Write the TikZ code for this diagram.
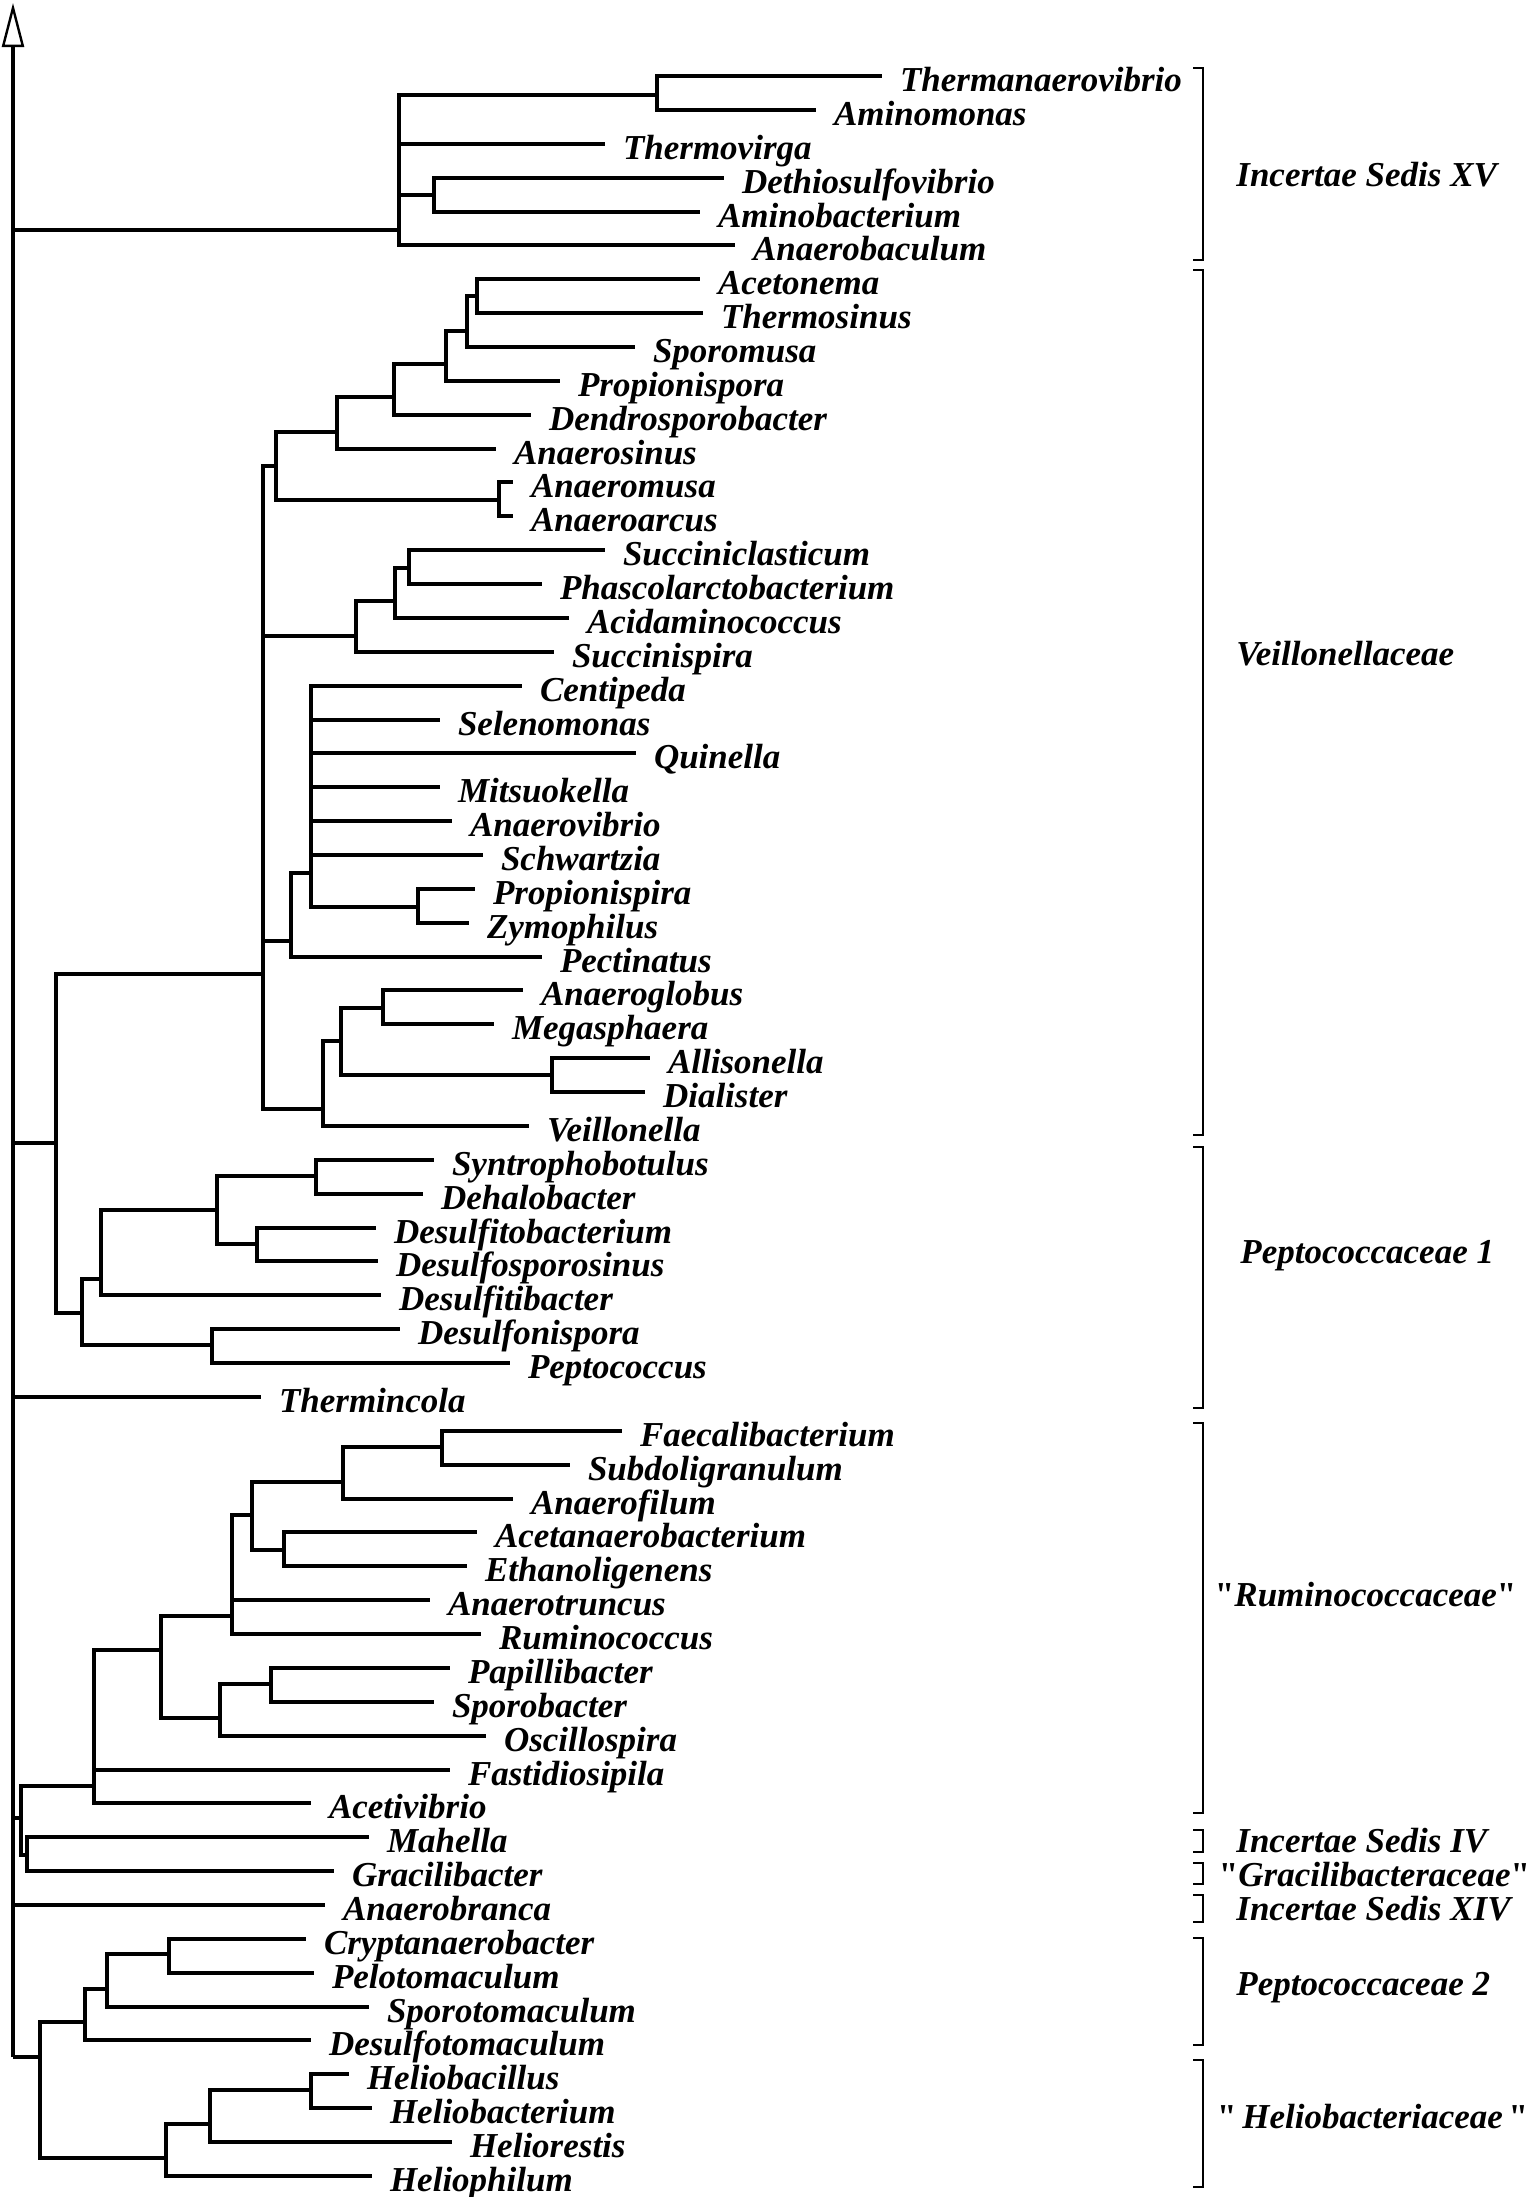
\documentclass[tikz,border=0pt]{standalone}
\usepackage{fontspec}
\setmainfont{Liberation Serif}
\newfontfamily\retafont{Liberation Serif}
\usetikzlibrary{arrows.meta}

\tikzset{
  ramo/.style={line width=1.75pt},
  chave/.style={line width=0.9pt},
  folha/.style={anchor=west, inner sep=0pt, outer xsep=9pt, text height=15pt, text depth=0pt},
  familia/.style={anchor=west, inner sep=0pt, text height=15pt, text depth=0pt},
}
\newcommand{\aspas}{{\retafont\upshape\bfseries"}}

\begin{document}
\begin{tikzpicture}[x=0.5pt, y=-0.5pt, font=\fontsize{17.5}{20}\selectfont\bfseries\itshape]

    \useasboundingbox (0,0) rectangle (1528,2197);

    % eixo
    \coordinate (raiz) at (13,2057);
    \coordinate (topo) at (13,3);
    \draw[ramo, -{Triangle[open, length=22pt, width=11pt, line width=1.2pt]}] (raiz) -- (topo);

    % folhas
    \node[folha] (thermanaerovibrio) at (882,76) {Thermanaerovibrio};
    \node[folha] (aminomonas) at (816,110) {Aminomonas};
    \node[folha] (thermovirga) at (605,144) {Thermovirga};
    \node[folha] (dethiosulfovibrio) at (724,178) {Dethiosulfovibrio};
    \node[folha] (aminobacterium) at (700,212) {Aminobacterium};
    \node[folha] (anaerobaculum) at (735,245) {Anaerobaculum};
    \node[folha] (acetonema) at (700,279) {Acetonema};
    \node[folha] (thermosinus) at (703,313) {Thermosinus};
    \node[folha] (sporomusa) at (635,347) {Sporomusa};
    \node[folha] (propionispora) at (560,381) {Propionispora};
    \node[folha] (dendrosporobacter) at (531,415) {Dendrosporobacter};
    \node[folha] (anaerosinus) at (496,449) {Anaerosinus};
    \node[folha] (anaeromusa) at (513,482) {Anaeromusa};
    \node[folha] (anaeroarcus) at (513,516) {Anaeroarcus};
    \node[folha] (succiniclasticum) at (605,550) {Succiniclasticum};
    \node[folha] (phascolarctobacterium) at (542,584) {Phascolarctobacterium};
    \node[folha] (acidaminococcus) at (569,618) {Acidaminococcus};
    \node[folha] (succinispira) at (554,652) {Succinispira};
    \node[folha] (centipeda) at (522,686) {Centipeda};
    \node[folha] (selenomonas) at (440,720) {Selenomonas};
    \node[folha] (quinella) at (636,753) {Quinella};
    \node[folha] (mitsuokella) at (440,787) {Mitsuokella};
    \node[folha] (anaerovibrio) at (452,821) {Anaerovibrio};
    \node[folha] (schwartzia) at (483,855) {Schwartzia};
    \node[folha] (propionispira) at (475,889) {Propionispira};
    \node[folha] (zymophilus) at (469,923) {Zymophilus};
    \node[folha] (pectinatus) at (542,957) {Pectinatus};
    \node[folha] (anaeroglobus) at (523,990) {Anaeroglobus};
    \node[folha] (megasphaera) at (494,1024) {Megasphaera};
    \node[folha] (allisonella) at (650,1058) {Allisonella};
    \node[folha] (dialister) at (645,1092) {Dialister};
    \node[folha] (veillonella) at (529,1126) {Veillonella};
    \node[folha] (syntrophobotulus) at (434,1160) {Syntrophobotulus};
    \node[folha] (dehalobacter) at (423,1194) {Dehalobacter};
    \node[folha] (desulfitobacterium) at (376,1228) {Desulfitobacterium};
    \node[folha] (desulfosporosinus) at (378,1261) {Desulfosporosinus};
    \node[folha] (desulfitibacter) at (381,1295) {Desulfitibacter};
    \node[folha] (desulfonispora) at (400,1329) {Desulfonispora};
    \node[folha] (peptococcus) at (510,1363) {Peptococcus};
    \node[folha] (thermincola) at (261,1397) {Thermincola};
    \node[folha] (faecalibacterium) at (622,1431) {Faecalibacterium};
    \node[folha] (subdoligranulum) at (570,1465) {Subdoligranulum};
    \node[folha] (anaerofilum) at (513,1499) {Anaerofilum};
    \node[folha] (acetanaerobacterium) at (477,1532) {Acetanaerobacterium};
    \node[folha] (ethanoligenens) at (467,1566) {Ethanoligenens};
    \node[folha] (anaerotruncus) at (430,1600) {Anaerotruncus};
    \node[folha] (ruminococcus) at (481,1634) {Ruminococcus};
    \node[folha] (papillibacter) at (450,1668) {Papillibacter};
    \node[folha] (sporobacter) at (434,1702) {Sporobacter};
    \node[folha] (oscillospira) at (486,1736) {Oscillospira};
    \node[folha] (fastidiosipila) at (450,1770) {Fastidiosipila};
    \node[folha] (acetivibrio) at (311,1803) {Acetivibrio};
    \node[folha] (mahella) at (369,1837) {Mahella};
    \node[folha] (gracilibacter) at (334,1871) {Gracilibacter};
    \node[folha] (anaerobranca) at (325,1905) {Anaerobranca};
    \node[folha] (cryptanaerobacter) at (306,1939) {Cryptanaerobacter};
    \node[folha] (pelotomaculum) at (314,1973) {Pelotomaculum};
    \node[folha] (sporotomaculum) at (369,2007) {Sporotomaculum};
    \node[folha] (desulfotomaculum) at (311,2040) {Desulfotomaculum};
    \node[folha] (heliobacillus) at (349,2074) {Heliobacillus};
    \node[folha] (heliobacterium) at (372,2108) {Heliobacterium};
    \node[folha] (heliorestis) at (452,2142) {Heliorestis};
    \node[folha] (heliophilum) at (372,2176) {Heliophilum};

    % Incertae Sedis XV
    \coordinate (c15) at (399,230);
    \coordinate (c15a) at (657,95);
    \coordinate (c15b) at (434,195);
    \draw[ramo] (c15a) |- (thermanaerovibrio) (c15a) |- (aminomonas);
    \draw[ramo] (c15b) |- (dethiosulfovibrio) (c15b) |- (aminobacterium);
    \draw[ramo] (c15) |- (c15a) (c15) |- (thermovirga) (c15) |- (c15b) (c15) |- (anaerobaculum);

    % Veillonellaceae
    \coordinate (cv) at (263,974);
    \coordinate (cv1) at (276,466);
    \coordinate (cv2) at (337,432);
    \coordinate (cv3) at (394,397);
    \coordinate (cv4) at (446,364);
    \coordinate (cv5) at (467,331);
    \coordinate (cv6) at (477,296);
    \coordinate (cv7) at (499,500);
    \coordinate (cv8) at (356,636);
    \coordinate (cv9) at (395,601);
    \coordinate (cv10) at (409,568);
    \coordinate (cv11) at (291,941);
    \coordinate (cv12) at (311,873);
    \coordinate (cv13) at (418,907);
    \coordinate (cv14) at (323,1109);
    \coordinate (cv15) at (341,1041);
    \coordinate (cv16) at (383,1008);
    \coordinate (cv17) at (552,1075);
    \draw[ramo] (cv6) |- (acetonema) (cv6) |- (thermosinus);
    \draw[ramo] (cv5) |- (cv6) (cv5) |- (sporomusa);
    \draw[ramo] (cv4) |- (cv5) (cv4) |- (propionispora);
    \draw[ramo] (cv3) |- (cv4) (cv3) |- (dendrosporobacter);
    \draw[ramo] (cv2) |- (cv3) (cv2) |- (anaerosinus);
    \draw[ramo] (cv7) |- (anaeromusa) (cv7) |- (anaeroarcus);
    \draw[ramo] (cv1) |- (cv2) (cv1) |- (cv7);
    \draw[ramo] (cv10) |- (succiniclasticum) (cv10) |- (phascolarctobacterium);
    \draw[ramo] (cv9) |- (cv10) (cv9) |- (acidaminococcus);
    \draw[ramo] (cv8) |- (cv9) (cv8) |- (succinispira);
    \draw[ramo] (cv13) |- (propionispira) (cv13) |- (zymophilus);
    \draw[ramo] (cv12) |- (centipeda) (cv12) |- (selenomonas) (cv12) |- (quinella)
        (cv12) |- (mitsuokella) (cv12) |- (anaerovibrio) (cv12) |- (schwartzia) (cv12) |- (cv13);
    \draw[ramo] (cv11) |- (cv12) (cv11) |- (pectinatus);
    \draw[ramo] (cv16) |- (anaeroglobus) (cv16) |- (megasphaera);
    \draw[ramo] (cv17) |- (allisonella) (cv17) |- (dialister);
    \draw[ramo] (cv15) |- (cv16) (cv15) |- (cv17);
    \draw[ramo] (cv14) |- (cv15) (cv14) |- (veillonella);
    \draw[ramo] (cv) |- (cv1) (cv) |- (cv8) (cv) |- (cv11) (cv) |- (cv14);

    % Peptococcaceae 1
    \coordinate (cp0) at (56,1143);
    \coordinate (cp1) at (82,1313);
    \coordinate (cp2) at (101,1279);
    \coordinate (cp3) at (217,1210);
    \coordinate (cp4) at (316,1176);
    \coordinate (cp5) at (257,1244);
    \coordinate (cp6) at (212,1345);
    \draw[ramo] (cp4) |- (syntrophobotulus) (cp4) |- (dehalobacter);
    \draw[ramo] (cp5) |- (desulfitobacterium) (cp5) |- (desulfosporosinus);
    \draw[ramo] (cp3) |- (cp4) (cp3) |- (cp5);
    \draw[ramo] (cp2) |- (cp3) (cp2) |- (desulfitibacter);
    \draw[ramo] (cp6) |- (desulfonispora) (cp6) |- (peptococcus);
    \draw[ramo] (cp1) |- (cp2) (cp1) |- (cp6);
    \draw[ramo] (cp0) |- (cv) (cp0) |- (cp1);

    % Ruminococcaceae e vizinhos
    \coordinate (cr0) at (21,1818);
    \coordinate (cr1) at (94,1786);
    \coordinate (cr2) at (161,1650);
    \coordinate (cr3) at (232,1616);
    \coordinate (cr4) at (252,1515);
    \coordinate (cr5) at (343,1482);
    \coordinate (cr6) at (442,1447);
    \coordinate (cr7) at (284,1550);
    \coordinate (cr8) at (220,1718);
    \coordinate (cr9) at (271,1684);
    \coordinate (cr10) at (27,1855);
    \draw[ramo] (cr6) |- (faecalibacterium) (cr6) |- (subdoligranulum);
    \draw[ramo] (cr5) |- (cr6) (cr5) |- (anaerofilum);
    \draw[ramo] (cr7) |- (acetanaerobacterium) (cr7) |- (ethanoligenens);
    \draw[ramo] (cr4) |- (cr5) (cr4) |- (cr7);
    \draw[ramo] (cr3) |- (cr4) (cr3) |- (anaerotruncus) (cr3) |- (ruminococcus);
    \draw[ramo] (cr9) |- (papillibacter) (cr9) |- (sporobacter);
    \draw[ramo] (cr8) |- (cr9) (cr8) |- (oscillospira);
    \draw[ramo] (cr2) |- (cr3) (cr2) |- (cr8);
    \draw[ramo] (cr1) |- (cr2) (cr1) |- (fastidiosipila) (cr1) |- (acetivibrio);
    \draw[ramo] (cr10) |- (mahella) (cr10) |- (gracilibacter);
    \draw[ramo] (cr0) |- (cr1) (cr0) |- (cr10);

    % Peptococcaceae 2 e Heliobacteriaceae
    \coordinate (ch0) at (40,2057);
    \coordinate (cd1) at (85,2022);
    \coordinate (cd2) at (107,1989);
    \coordinate (cd3) at (169,1954);
    \coordinate (ch1) at (166,2158);
    \coordinate (ch2) at (210,2124);
    \coordinate (ch3) at (311,2090);
    \draw[ramo] (cd3) |- (cryptanaerobacter) (cd3) |- (pelotomaculum);
    \draw[ramo] (cd2) |- (cd3) (cd2) |- (sporotomaculum);
    \draw[ramo] (cd1) |- (cd2) (cd1) |- (desulfotomaculum);
    \draw[ramo] (ch3) |- (heliobacillus) (ch3) |- (heliobacterium);
    \draw[ramo] (ch2) |- (ch3) (ch2) |- (heliorestis);
    \draw[ramo] (ch1) |- (ch2) (ch1) |- (heliophilum);
    \draw[ramo] (ch0) |- (cd1) (ch0) |- (ch1);

    % ramos saindo do eixo
    \draw[ramo] (raiz) |- (c15) (raiz) |- (cp0) (raiz) |- (thermincola)
        (raiz) |- (cr0) (raiz) |- (anaerobranca) (raiz) |- (ch0);

    % chaves das familias
    \draw[chave] (1193,68) -- (1203,68) -- (1203,260) -- (1193,260);
    \draw[chave] (1193,270) -- (1203,270) -- (1203,1135) -- (1193,1135);
    \draw[chave] (1193,1147) -- (1203,1147) -- (1203,1408) -- (1193,1408);
    \draw[chave] (1193,1423) -- (1203,1423) -- (1203,1813) -- (1193,1813);
    \draw[chave] (1193,1830) -- (1203,1830) -- (1203,1852) -- (1193,1852);
    \draw[chave] (1193,1863) -- (1203,1863) -- (1203,1884) -- (1193,1884);
    \draw[chave] (1193,1895) -- (1203,1895) -- (1203,1922) -- (1193,1922);
    \draw[chave] (1193,1938) -- (1203,1938) -- (1203,2045) -- (1193,2045);
    \draw[chave] (1193,2060) -- (1203,2060) -- (1203,2187) -- (1193,2187);

    % nomes das familias
    \node[familia] (incertae15) at (1236,171) {Incertae Sedis XV};
    \node[familia] (veillonellaceae) at (1236,650) {Veillonellaceae};
    \node[familia] (peptococcaceae1) at (1240,1248) {Peptococcaceae 1};
    \node[familia] (ruminococcaceae) at (1234,1591) {\llap{\aspas}Ruminococcaceae\aspas};
    \node[familia] (incertae4) at (1236,1837) {Incertae Sedis IV};
    \node[familia] (gracilibacteraceae) at (1238,1871) {\llap{\aspas}Gracilibacteraceae\aspas};
    \node[familia] (incertae14) at (1236,1905) {Incertae Sedis XIV};
    \node[familia] (peptococcaceae2) at (1236,1980) {Peptococcaceae 2};
    \node[familia] (heliobacteriaceae) at (1242,2113) {\llap{\aspas\,}Heliobacteriaceae\,\aspas};

\end{tikzpicture}
\end{document}
